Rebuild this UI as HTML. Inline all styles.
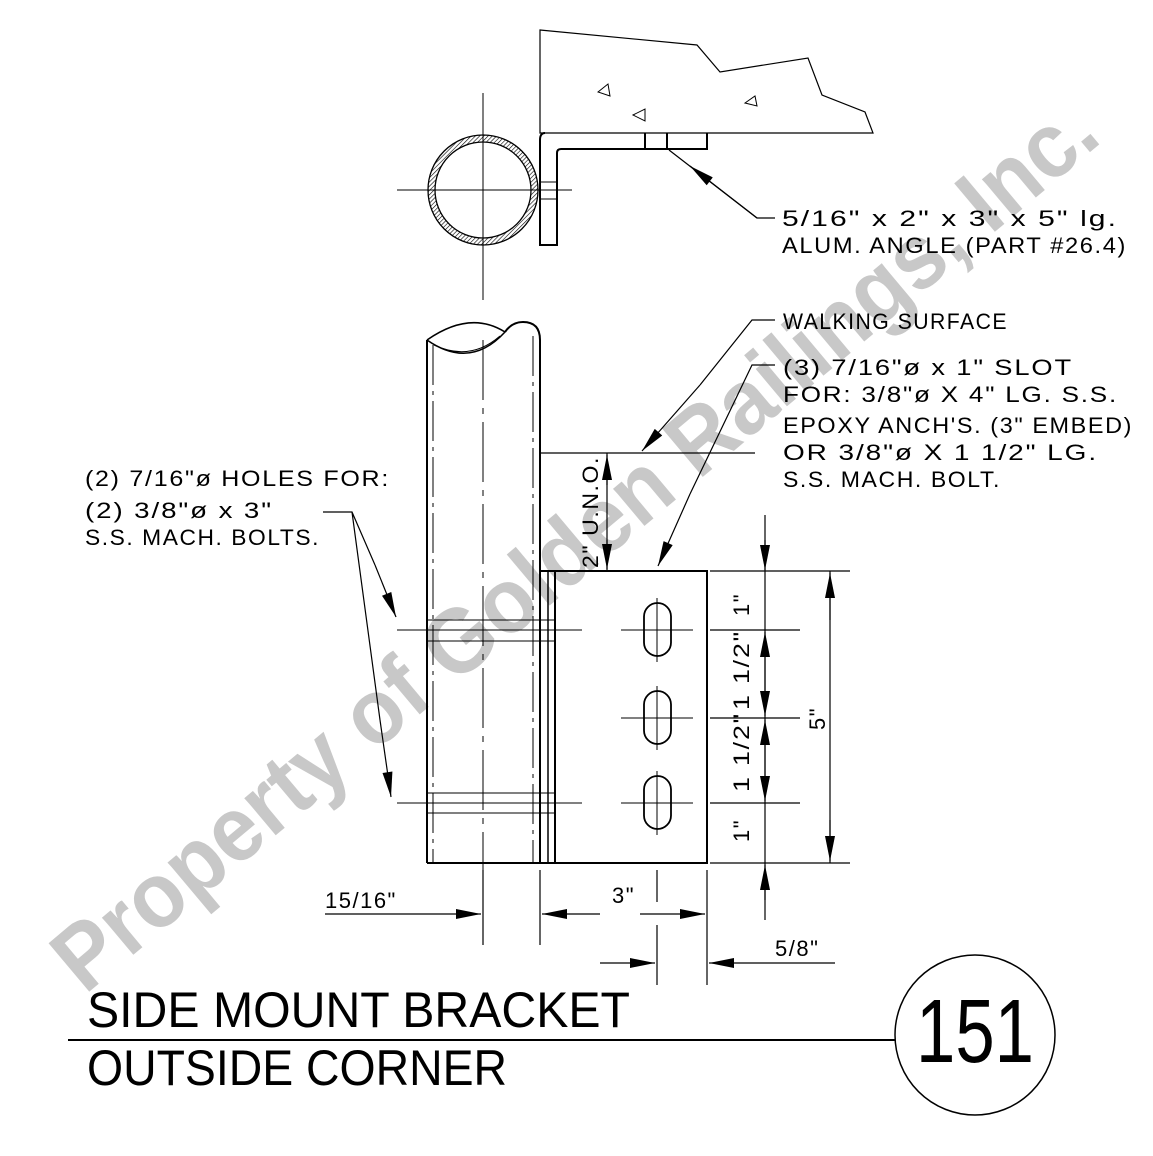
<!DOCTYPE html>
<html><head><meta charset="utf-8"><style>
html,body{margin:0;padding:0;background:#fff;}
svg{display:block;}
text{font-family:"Liberation Sans",sans-serif;fill:#000;}
</style></head><body>
<svg width="1153" height="1156" viewBox="0 0 1153 1156" xmlns="http://www.w3.org/2000/svg">
<defs>
<marker id="a" viewBox="0 0 10 4" refX="10" refY="2" markerWidth="26" markerHeight="10" markerUnits="userSpaceOnUse" orient="auto"><path d="M0,0 L10,2 L0,4 Z" fill="#000"/></marker>
<pattern id="h" width="3" height="3" patternUnits="userSpaceOnUse" patternTransform="rotate(45)"><rect width="3" height="3" fill="#fff"/><line x1="0" y1="0" x2="0" y2="3" stroke="#000" stroke-width="1.2"/></pattern>
</defs>
<text x="575" y="575" text-anchor="middle" transform="rotate(-40 575 545)" style="font-size:92px;font-weight:bold;fill:#c8c8c8" textLength="1330" lengthAdjust="spacingAndGlyphs">Property of Golden Railings, Inc.</text>

<g stroke="#000" fill="none" stroke-width="1.2">
<path d="M540,30 L697,45 L720,72 L808,58 L822,95 L865,112 L873,133 L540,133 Z"/>
<path d="M598,92 l10,-8 l2,12 z M633,115 l12,-6 l0,12 z M745,103 l10,-7 l2,10 z" stroke-width="1"/>
<path d="M545,133 Q540,133 540,140 L540,245 L557,245 L557,153 Q557,149 561,149 L707,149 L707,133" stroke-width="2"/>
<path d="M645,133 V149 M667,133 V149" stroke-width="2"/>
<path d="M540,182 H557 M540,199 H557" stroke-width="1"/>
<circle cx="483" cy="190" r="51.5" stroke="url(#h)" stroke-width="7"/>
<circle cx="483" cy="190" r="55" stroke-width="1.3"/>
<circle cx="483" cy="190" r="48" stroke-width="1.3"/>
<path d="M397,190 H572 M483,93 V300" stroke-width="1"/>
<path d="M757,218 L690,166" marker-end="url(#a)"/>
<path d="M775,218 H757 L669,150"/>

<path d="M427,863 V340 M540,863 V340 Q540,322 523,322 Q512,322 505,332" stroke-width="2"/>
<path d="M427,340 Q470,310 505,332 M427,340 Q470,370 505,332" stroke-width="1.5"/>
<path d="M434,345 Q470,362 500,336" stroke-width="1"/>
<path d="M433,345 V863 M533,336 V863" stroke-dasharray="40,6,4,6" stroke-width="1"/>
<path d="M483,340 V870" stroke-dasharray="60,8,6,8" stroke-width="1"/>
<path d="M427,863 H555" stroke-width="2"/>
<path d="M540,571 H707 V863 H555 V571" stroke-width="2"/>
<path d="M548,571 V863" stroke-width="1.5"/>
<path d="M397,630 H582 M397,803 H582 M427,620 H555 M427,641 H555 M427,793 H555 M427,813 H555" stroke-width="1"/>
<g stroke-width="1.8">
<rect x="644" y="603" width="27" height="53" rx="13.5"/>
<rect x="644" y="691" width="27" height="53" rx="13.5"/>
<rect x="644" y="776" width="27" height="53" rx="13.5"/>
</g>
<path d="M621,630 H693 M657,598 V662 M621,718 H693 M657,686 V750 M621,803 H693 M657,771 V835" stroke-width="1"/>
<path d="M540,453 H755"/>
<path d="M775,320 H752 L700,385"/>
<path d="M700,385 L642,451" marker-end="url(#a)"/>
<path d="M775,365 H752 L690,494"/>
<path d="M690,494 L658,566" marker-end="url(#a)"/>
<path d="M607,453 V571"/>
<path d="M607,485 V455" marker-end="url(#a)"/><path d="M607,540 V569" marker-end="url(#a)"/>
<path d="M710,571 H850 M710,863 H850 M710,630 H800 M710,718 H800 M710,803 H800"/>
<path d="M765,515 V920"/>
<path d="M765,540 V570" marker-end="url(#a)"/>
<path d="M765,680 V632" marker-end="url(#a)"/><path d="M765,680 V716" marker-end="url(#a)"/>
<path d="M765,760 V720" marker-end="url(#a)"/><path d="M765,760 V801" marker-end="url(#a)"/>
<path d="M765,900 V865" marker-end="url(#a)"/>
<path d="M830,571 V863"/>
<path d="M830,620 V573" marker-end="url(#a)"/><path d="M830,820 V861" marker-end="url(#a)"/>
<path d="M483,870 V945 M540,870 V945 M657,870 V902 M657,925 V985 M707,870 V985"/>
<path d="M325,914 H450" /><path d="M450,914 H481" marker-end="url(#a)"/>
<path d="M600,914 H542" marker-end="url(#a)"/><path d="M640,914 H705" marker-end="url(#a)"/>
<path d="M600,963 H655" marker-end="url(#a)"/>
<path d="M835,963 H740"/><path d="M740,963 H709" marker-end="url(#a)"/>
<path d="M323,512 H352 L375,565 M352,512 L380,720"/>
<path d="M375,565 L396,617" marker-end="url(#a)"/>
<path d="M380,720 L391,797" marker-end="url(#a)"/>
<path d="M68,1040 H895" stroke-width="2"/>
<circle cx="975" cy="1035" r="80" stroke-width="1.5"/>
</g>

<g style="font-size:22px;letter-spacing:1.5px">
<text x="782" y="226" textLength="336" lengthAdjust="spacingAndGlyphs">5/16" x 2" x 3" x 5" lg.</text>
<text x="782" y="253" textLength="345" lengthAdjust="spacingAndGlyphs">ALUM. ANGLE (PART #26.4)</text>
<text x="783" y="329" textLength="225" lengthAdjust="spacingAndGlyphs">WALKING SURFACE</text>
<text x="783" y="375" textLength="290" lengthAdjust="spacingAndGlyphs">(3) 7/16"ø x 1" SLOT</text>
<text x="783" y="402" textLength="335" lengthAdjust="spacingAndGlyphs">FOR: 3/8"ø X 4" LG. S.S.</text>
<text x="783" y="433" textLength="350" lengthAdjust="spacingAndGlyphs">EPOXY ANCH'S. (3" EMBED)</text>
<text x="783" y="460" textLength="315" lengthAdjust="spacingAndGlyphs">OR 3/8"ø X 1 1/2" LG.</text>
<text x="783" y="487" textLength="218" lengthAdjust="spacingAndGlyphs">S.S. MACH. BOLT.</text>
<text x="85" y="486" textLength="305" lengthAdjust="spacingAndGlyphs">(2) 7/16"ø HOLES FOR:</text>
<text x="85" y="518" textLength="188" lengthAdjust="spacingAndGlyphs">(2) 3/8"ø x 3"</text>
<text x="85" y="545" textLength="235" lengthAdjust="spacingAndGlyphs">S.S. MACH. BOLTS.</text>
<text x="325" y="908">15/16"</text>
<text x="612" y="903">3"</text>
<text x="775" y="956">5/8"</text>
<text transform="translate(598,568) rotate(-90)" textLength="112" lengthAdjust="spacingAndGlyphs">2" U.N.O.</text>
<text transform="translate(749,616) rotate(-90)">1"</text>
<text transform="translate(749,710) rotate(-90)" textLength="80" lengthAdjust="spacingAndGlyphs">1 1/2"</text>
<text transform="translate(749,792) rotate(-90)" textLength="80" lengthAdjust="spacingAndGlyphs">1 1/2"</text>
<text transform="translate(749,842) rotate(-90)">1"</text>
<text transform="translate(825,730) rotate(-90)">5"</text>
</g>
<text x="87" y="1027" style="font-size:50px" textLength="543" lengthAdjust="spacingAndGlyphs">SIDE MOUNT BRACKET</text>
<text x="87" y="1085" style="font-size:50px" textLength="420" lengthAdjust="spacingAndGlyphs">OUTSIDE CORNER</text>
<text x="975" y="1062" text-anchor="middle" style="font-size:90px" textLength="118" lengthAdjust="spacingAndGlyphs">151</text>
</svg>
</body></html>
